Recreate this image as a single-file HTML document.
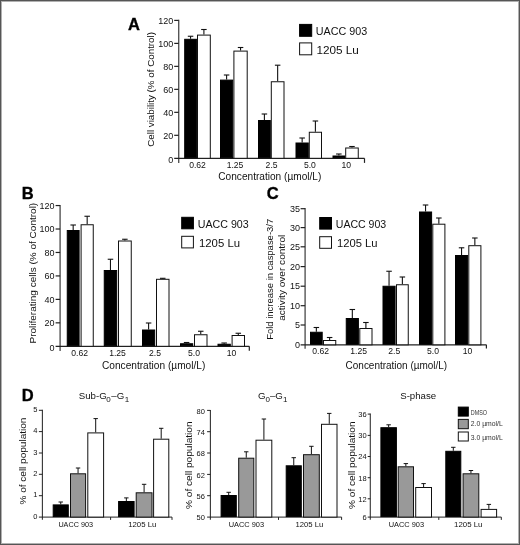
<!DOCTYPE html>
<html><head><meta charset="utf-8"><title>Figure</title>
<style>
html,body{margin:0;padding:0;background:#fff;}
body{width:520px;height:545px;overflow:hidden;position:relative;}
svg{position:absolute;left:0;top:0;display:block;font-family:"Liberation Sans",sans-serif;}
</style></head><body>
<svg width="520" height="545" viewBox="0 0 520 545">
<rect x="0" y="0" width="520" height="545" fill="#fff"/>
<rect x="1.5" y="1.5" width="517" height="542" fill="none" stroke="#b0b0b0" stroke-width="1"/>
<rect x="0.5" y="0.5" width="519" height="544" fill="none" stroke="#555" stroke-width="1"/>
<text x="128.0" y="29.6" font-size="16.5" text-anchor="start" font-weight="bold" fill="#000" stroke="#000" stroke-width="0.35">A</text>
<line x1="178.7" y1="19.799999999999997" x2="178.7" y2="163.10000000000002" stroke="#555" stroke-width="1.4"/>
<line x1="174.2" y1="158.3" x2="364.5" y2="158.3" stroke="#222" stroke-width="1.2"/>
<line x1="364.5" y1="158.3" x2="364.5" y2="162.9" stroke="#222" stroke-width="1.2"/>
<line x1="174.2" y1="20.4" x2="178.7" y2="20.4" stroke="#222" stroke-width="1.2"/>
<text x="173.3" y="23.7" font-size="9" text-anchor="end" font-weight="normal" fill="#111">120</text>
<line x1="174.2" y1="43.38333333333333" x2="178.7" y2="43.38333333333333" stroke="#222" stroke-width="1.2"/>
<text x="173.3" y="46.68333333333333" font-size="9" text-anchor="end" font-weight="normal" fill="#111">100</text>
<line x1="174.2" y1="66.36666666666667" x2="178.7" y2="66.36666666666667" stroke="#222" stroke-width="1.2"/>
<text x="173.3" y="69.66666666666667" font-size="9" text-anchor="end" font-weight="normal" fill="#111">80</text>
<line x1="174.2" y1="89.35" x2="178.7" y2="89.35" stroke="#222" stroke-width="1.2"/>
<text x="173.3" y="92.64999999999999" font-size="9" text-anchor="end" font-weight="normal" fill="#111">60</text>
<line x1="174.2" y1="112.33333333333334" x2="178.7" y2="112.33333333333334" stroke="#222" stroke-width="1.2"/>
<text x="173.3" y="115.63333333333334" font-size="9" text-anchor="end" font-weight="normal" fill="#111">40</text>
<line x1="174.2" y1="135.31666666666666" x2="178.7" y2="135.31666666666666" stroke="#222" stroke-width="1.2"/>
<text x="173.3" y="138.61666666666667" font-size="9" text-anchor="end" font-weight="normal" fill="#111">20</text>
<text x="173.3" y="162.5" font-size="9" text-anchor="end" font-weight="normal" fill="#111">0</text>
<line x1="190.55" y1="36.25" x2="190.55" y2="38.8" stroke="#111" stroke-width="1.1"/>
<line x1="187.8" y1="36.25" x2="193.3" y2="36.25" stroke="#111" stroke-width="1.1"/>
<line x1="203.9" y1="29.5" x2="203.9" y2="34.6" stroke="#111" stroke-width="1.1"/>
<line x1="201.15" y1="29.5" x2="206.65" y2="29.5" stroke="#111" stroke-width="1.1"/>
<rect x="184.70" y="39.30" width="11.70" height="118.50" fill="#000" stroke="#000" stroke-width="1"/>
<rect x="197.50" y="35.10" width="12.80" height="123.20" fill="#fff" stroke="#111" stroke-width="1"/>
<line x1="226.6" y1="75" x2="226.6" y2="79.6" stroke="#111" stroke-width="1.1"/>
<line x1="223.85" y1="75" x2="229.35" y2="75" stroke="#111" stroke-width="1.1"/>
<line x1="240.55" y1="47.5" x2="240.55" y2="50.6" stroke="#111" stroke-width="1.1"/>
<line x1="237.8" y1="47.5" x2="243.3" y2="47.5" stroke="#111" stroke-width="1.1"/>
<rect x="220.50" y="80.10" width="12.20" height="77.70" fill="#000" stroke="#000" stroke-width="1"/>
<rect x="233.90" y="51.10" width="13.30" height="107.20" fill="#fff" stroke="#111" stroke-width="1"/>
<line x1="264.4" y1="114" x2="264.4" y2="120" stroke="#111" stroke-width="1.1"/>
<line x1="261.65" y1="114" x2="267.15" y2="114" stroke="#111" stroke-width="1.1"/>
<line x1="277.65" y1="65.2" x2="277.65" y2="81.25" stroke="#111" stroke-width="1.1"/>
<line x1="274.9" y1="65.2" x2="280.4" y2="65.2" stroke="#111" stroke-width="1.1"/>
<rect x="258.50" y="120.50" width="11.80" height="37.30" fill="#000" stroke="#000" stroke-width="1"/>
<rect x="271.30" y="81.75" width="12.70" height="76.55" fill="#fff" stroke="#111" stroke-width="1"/>
<line x1="302.15" y1="138" x2="302.15" y2="142.5" stroke="#111" stroke-width="1.1"/>
<line x1="299.4" y1="138" x2="304.9" y2="138" stroke="#111" stroke-width="1.1"/>
<line x1="315.4" y1="121" x2="315.4" y2="131.75" stroke="#111" stroke-width="1.1"/>
<line x1="312.65" y1="121" x2="318.15" y2="121" stroke="#111" stroke-width="1.1"/>
<rect x="296.00" y="143.00" width="12.30" height="14.80" fill="#000" stroke="#000" stroke-width="1"/>
<rect x="309.30" y="132.25" width="12.20" height="26.05" fill="#fff" stroke="#111" stroke-width="1"/>
<line x1="338.85" y1="154" x2="338.85" y2="155.5" stroke="#111" stroke-width="1.1"/>
<line x1="336.1" y1="154" x2="341.6" y2="154" stroke="#111" stroke-width="1.1"/>
<line x1="351.975" y1="146.5" x2="351.975" y2="147.5" stroke="#111" stroke-width="1.1"/>
<line x1="349.225" y1="146.5" x2="354.725" y2="146.5" stroke="#111" stroke-width="1.1"/>
<rect x="333.00" y="156.00" width="11.70" height="1.80" fill="#000" stroke="#000" stroke-width="1"/>
<rect x="345.70" y="148.00" width="12.55" height="10.30" fill="#fff" stroke="#111" stroke-width="1"/>
<text x="197.5" y="168.1" font-size="8.6" text-anchor="middle" font-weight="normal" fill="#111">0.62</text>
<text x="235.0" y="168.1" font-size="8.6" text-anchor="middle" font-weight="normal" fill="#111">1.25</text>
<text x="271.6" y="168.1" font-size="8.6" text-anchor="middle" font-weight="normal" fill="#111">2.5</text>
<text x="309.9" y="168.1" font-size="8.6" text-anchor="middle" font-weight="normal" fill="#111">5.0</text>
<text x="346.3" y="168.1" font-size="8.6" text-anchor="middle" font-weight="normal" fill="#111">10</text>
<text x="218.3" y="180" font-size="10" text-anchor="start" font-weight="normal" fill="#111" textLength="103" lengthAdjust="spacingAndGlyphs">Concentration (µmol/L)</text>
<text transform="translate(153.9 89.4) rotate(-90)" font-size="9.5" text-anchor="middle" fill="#111" textLength="114.8" lengthAdjust="spacingAndGlyphs">Cell viability (% of Control)</text>
<rect x="299.60" y="24.40" width="12.10" height="11.90" fill="#000" stroke="#000" stroke-width="1"/>
<rect x="299.60" y="42.90" width="12.10" height="11.90" fill="#fff" stroke="#111" stroke-width="1"/>
<text x="315.8" y="35.2" font-size="11" text-anchor="start" font-weight="normal" fill="#111" textLength="51.4" lengthAdjust="spacingAndGlyphs">UACC 903</text>
<text x="316.4" y="53.8" font-size="11" text-anchor="start" font-weight="normal" fill="#111" textLength="42.4" lengthAdjust="spacingAndGlyphs">1205 Lu</text>
<text x="21.8" y="198.8" font-size="16.5" text-anchor="start" font-weight="bold" fill="#000" stroke="#000" stroke-width="0.35">B</text>
<line x1="60.1" y1="204.95000000000002" x2="60.1" y2="351.1" stroke="#555" stroke-width="1.4"/>
<line x1="55.6" y1="346.3" x2="249.3" y2="346.3" stroke="#222" stroke-width="1.2"/>
<line x1="249.3" y1="346.3" x2="249.3" y2="350.7" stroke="#222" stroke-width="1.2"/>
<line x1="55.6" y1="205.55" x2="60.1" y2="205.55" stroke="#222" stroke-width="1.2"/>
<text x="54.6" y="208.75" font-size="9" text-anchor="end" font-weight="normal" fill="#111">120</text>
<line x1="55.6" y1="229.00833333333335" x2="60.1" y2="229.00833333333335" stroke="#222" stroke-width="1.2"/>
<text x="54.6" y="232.20833333333334" font-size="9" text-anchor="end" font-weight="normal" fill="#111">100</text>
<line x1="55.6" y1="252.46666666666667" x2="60.1" y2="252.46666666666667" stroke="#222" stroke-width="1.2"/>
<text x="54.6" y="255.66666666666666" font-size="9" text-anchor="end" font-weight="normal" fill="#111">80</text>
<line x1="55.6" y1="275.925" x2="60.1" y2="275.925" stroke="#222" stroke-width="1.2"/>
<text x="54.6" y="279.125" font-size="9" text-anchor="end" font-weight="normal" fill="#111">60</text>
<line x1="55.6" y1="299.3833333333333" x2="60.1" y2="299.3833333333333" stroke="#222" stroke-width="1.2"/>
<text x="54.6" y="302.5833333333333" font-size="9" text-anchor="end" font-weight="normal" fill="#111">40</text>
<line x1="55.6" y1="322.8416666666667" x2="60.1" y2="322.8416666666667" stroke="#222" stroke-width="1.2"/>
<text x="54.6" y="326.0416666666667" font-size="9" text-anchor="end" font-weight="normal" fill="#111">20</text>
<text x="54.6" y="350.5" font-size="9" text-anchor="end" font-weight="normal" fill="#111">0</text>
<line x1="73.175" y1="225" x2="73.175" y2="230" stroke="#111" stroke-width="1.1"/>
<line x1="70.425" y1="225" x2="75.925" y2="225" stroke="#111" stroke-width="1.1"/>
<line x1="87.175" y1="216.25" x2="87.175" y2="224.25" stroke="#111" stroke-width="1.1"/>
<line x1="84.425" y1="216.25" x2="89.925" y2="216.25" stroke="#111" stroke-width="1.1"/>
<rect x="67.25" y="230.50" width="11.85" height="115.30" fill="#000" stroke="#000" stroke-width="1"/>
<rect x="81.10" y="224.75" width="12.15" height="121.55" fill="#fff" stroke="#111" stroke-width="1"/>
<line x1="110.475" y1="259.25" x2="110.475" y2="270" stroke="#111" stroke-width="1.1"/>
<line x1="107.725" y1="259.25" x2="113.225" y2="259.25" stroke="#111" stroke-width="1.1"/>
<line x1="124.875" y1="239.25" x2="124.875" y2="240.5" stroke="#111" stroke-width="1.1"/>
<line x1="122.125" y1="239.25" x2="127.625" y2="239.25" stroke="#111" stroke-width="1.1"/>
<rect x="104.25" y="270.50" width="12.45" height="75.30" fill="#000" stroke="#000" stroke-width="1"/>
<rect x="118.50" y="241.00" width="12.75" height="105.30" fill="#fff" stroke="#111" stroke-width="1"/>
<line x1="148.6" y1="323" x2="148.6" y2="329.5" stroke="#111" stroke-width="1.1"/>
<line x1="145.85" y1="323" x2="151.35" y2="323" stroke="#111" stroke-width="1.1"/>
<line x1="162.75" y1="278.3" x2="162.75" y2="278.8" stroke="#111" stroke-width="1.1"/>
<line x1="160.0" y1="278.3" x2="165.5" y2="278.3" stroke="#111" stroke-width="1.1"/>
<rect x="142.50" y="330.00" width="12.20" height="15.80" fill="#000" stroke="#000" stroke-width="1"/>
<rect x="156.50" y="279.30" width="12.50" height="67.00" fill="#fff" stroke="#111" stroke-width="1"/>
<line x1="186.6" y1="342.5" x2="186.6" y2="343.25" stroke="#111" stroke-width="1.1"/>
<line x1="183.85" y1="342.5" x2="189.35" y2="342.5" stroke="#111" stroke-width="1.1"/>
<line x1="200.75" y1="331.25" x2="200.75" y2="334.25" stroke="#111" stroke-width="1.1"/>
<line x1="198.0" y1="331.25" x2="203.5" y2="331.25" stroke="#111" stroke-width="1.1"/>
<rect x="180.50" y="343.75" width="12.20" height="2.05" fill="#000" stroke="#000" stroke-width="1"/>
<rect x="194.50" y="334.75" width="12.50" height="11.55" fill="#fff" stroke="#111" stroke-width="1"/>
<line x1="224.15" y1="343" x2="224.15" y2="343.75" stroke="#111" stroke-width="1.1"/>
<line x1="221.4" y1="343" x2="226.9" y2="343" stroke="#111" stroke-width="1.1"/>
<line x1="238.3" y1="333.25" x2="238.3" y2="335" stroke="#111" stroke-width="1.1"/>
<line x1="235.55" y1="333.25" x2="241.05" y2="333.25" stroke="#111" stroke-width="1.1"/>
<rect x="218.00" y="344.25" width="12.30" height="1.55" fill="#000" stroke="#000" stroke-width="1"/>
<rect x="232.10" y="335.50" width="12.40" height="10.80" fill="#fff" stroke="#111" stroke-width="1"/>
<text x="79.6" y="355.6" font-size="8.6" text-anchor="middle" font-weight="normal" fill="#111">0.62</text>
<text x="117.5" y="355.6" font-size="8.6" text-anchor="middle" font-weight="normal" fill="#111">1.25</text>
<text x="155.0" y="355.6" font-size="8.6" text-anchor="middle" font-weight="normal" fill="#111">2.5</text>
<text x="194.0" y="355.6" font-size="8.6" text-anchor="middle" font-weight="normal" fill="#111">5.0</text>
<text x="231.5" y="355.6" font-size="8.6" text-anchor="middle" font-weight="normal" fill="#111">10</text>
<text x="102.0" y="369.1" font-size="10" text-anchor="start" font-weight="normal" fill="#111" textLength="103.3" lengthAdjust="spacingAndGlyphs">Concentration (µmol/L)</text>
<text transform="translate(35.9 273.15) rotate(-90)" font-size="9.7" text-anchor="middle" fill="#111" textLength="140.7" lengthAdjust="spacingAndGlyphs">Proliferating cells (% of Control)</text>
<rect x="181.70" y="217.30" width="11.70" height="11.50" fill="#000" stroke="#000" stroke-width="1"/>
<rect x="181.70" y="236.30" width="11.70" height="11.60" fill="#fff" stroke="#111" stroke-width="1"/>
<text x="197.7" y="228.1" font-size="11" text-anchor="start" font-weight="normal" fill="#111" textLength="51" lengthAdjust="spacingAndGlyphs">UACC 903</text>
<text x="199.0" y="246.6" font-size="11" text-anchor="start" font-weight="normal" fill="#111" textLength="41" lengthAdjust="spacingAndGlyphs">1205 Lu</text>
<text x="266.8" y="199.3" font-size="16.5" text-anchor="start" font-weight="bold" fill="#000" stroke="#000" stroke-width="0.35">C</text>
<line x1="305.1" y1="208.1" x2="305.1" y2="348.8" stroke="#555" stroke-width="1.4"/>
<line x1="300.6" y1="344.8" x2="486.4" y2="344.8" stroke="#222" stroke-width="1.2"/>
<line x1="486.4" y1="344.8" x2="486.4" y2="348.6" stroke="#222" stroke-width="1.2"/>
<line x1="300.6" y1="208.7" x2="305.1" y2="208.7" stroke="#222" stroke-width="1.2"/>
<text x="300.0" y="211.89999999999998" font-size="9" text-anchor="end" font-weight="normal" fill="#111">35</text>
<line x1="300.6" y1="227.6" x2="305.1" y2="227.6" stroke="#222" stroke-width="1.2"/>
<text x="300.0" y="230.79999999999998" font-size="9" text-anchor="end" font-weight="normal" fill="#111">30</text>
<line x1="300.6" y1="246.8" x2="305.1" y2="246.8" stroke="#222" stroke-width="1.2"/>
<text x="300.0" y="250.0" font-size="9" text-anchor="end" font-weight="normal" fill="#111">25</text>
<line x1="300.6" y1="266.6" x2="305.1" y2="266.6" stroke="#222" stroke-width="1.2"/>
<text x="300.0" y="269.8" font-size="9" text-anchor="end" font-weight="normal" fill="#111">20</text>
<line x1="300.6" y1="286.2" x2="305.1" y2="286.2" stroke="#222" stroke-width="1.2"/>
<text x="300.0" y="289.4" font-size="9" text-anchor="end" font-weight="normal" fill="#111">15</text>
<line x1="300.6" y1="305.7" x2="305.1" y2="305.7" stroke="#222" stroke-width="1.2"/>
<text x="300.0" y="308.9" font-size="9" text-anchor="end" font-weight="normal" fill="#111">10</text>
<line x1="300.6" y1="325.0" x2="305.1" y2="325.0" stroke="#222" stroke-width="1.2"/>
<text x="300.0" y="328.2" font-size="9" text-anchor="end" font-weight="normal" fill="#111">5</text>
<text x="300.0" y="348.0" font-size="9" text-anchor="end" font-weight="normal" fill="#111">0</text>
<line x1="316.35" y1="327.5" x2="316.35" y2="331.75" stroke="#111" stroke-width="1.1"/>
<line x1="313.6" y1="327.5" x2="319.1" y2="327.5" stroke="#111" stroke-width="1.1"/>
<line x1="329.625" y1="337.5" x2="329.625" y2="340" stroke="#111" stroke-width="1.1"/>
<line x1="326.875" y1="337.5" x2="332.375" y2="337.5" stroke="#111" stroke-width="1.1"/>
<rect x="310.50" y="332.25" width="11.70" height="12.05" fill="#000" stroke="#000" stroke-width="1"/>
<rect x="323.50" y="340.50" width="12.25" height="4.30" fill="#fff" stroke="#111" stroke-width="1"/>
<line x1="352.325" y1="309.5" x2="352.325" y2="318" stroke="#111" stroke-width="1.1"/>
<line x1="349.575" y1="309.5" x2="355.075" y2="309.5" stroke="#111" stroke-width="1.1"/>
<line x1="365.9" y1="322.5" x2="365.9" y2="328" stroke="#111" stroke-width="1.1"/>
<line x1="363.15" y1="322.5" x2="368.65" y2="322.5" stroke="#111" stroke-width="1.1"/>
<rect x="346.25" y="318.50" width="12.15" height="25.80" fill="#000" stroke="#000" stroke-width="1"/>
<rect x="359.80" y="328.50" width="12.20" height="16.30" fill="#fff" stroke="#111" stroke-width="1"/>
<line x1="389.05" y1="271.25" x2="389.05" y2="285.75" stroke="#111" stroke-width="1.1"/>
<line x1="386.3" y1="271.25" x2="391.8" y2="271.25" stroke="#111" stroke-width="1.1"/>
<line x1="402.375" y1="277" x2="402.375" y2="284.25" stroke="#111" stroke-width="1.1"/>
<line x1="399.625" y1="277" x2="405.125" y2="277" stroke="#111" stroke-width="1.1"/>
<rect x="383.00" y="286.25" width="12.10" height="58.05" fill="#000" stroke="#000" stroke-width="1"/>
<rect x="396.50" y="284.75" width="11.75" height="60.05" fill="#fff" stroke="#111" stroke-width="1"/>
<line x1="425.55" y1="205" x2="425.55" y2="211.5" stroke="#111" stroke-width="1.1"/>
<line x1="422.8" y1="205" x2="428.3" y2="205" stroke="#111" stroke-width="1.1"/>
<line x1="438.85" y1="218" x2="438.85" y2="223.7" stroke="#111" stroke-width="1.1"/>
<line x1="436.1" y1="218" x2="441.6" y2="218" stroke="#111" stroke-width="1.1"/>
<rect x="419.50" y="212.00" width="12.10" height="132.30" fill="#000" stroke="#000" stroke-width="1"/>
<rect x="432.80" y="224.20" width="12.10" height="120.60" fill="#fff" stroke="#111" stroke-width="1"/>
<line x1="461.55" y1="247.8" x2="461.55" y2="255" stroke="#111" stroke-width="1.1"/>
<line x1="458.8" y1="247.8" x2="464.3" y2="247.8" stroke="#111" stroke-width="1.1"/>
<line x1="474.85" y1="238" x2="474.85" y2="245.2" stroke="#111" stroke-width="1.1"/>
<line x1="472.1" y1="238" x2="477.6" y2="238" stroke="#111" stroke-width="1.1"/>
<rect x="455.50" y="255.50" width="12.10" height="88.80" fill="#000" stroke="#000" stroke-width="1"/>
<rect x="468.80" y="245.70" width="12.10" height="99.10" fill="#fff" stroke="#111" stroke-width="1"/>
<text x="320.7" y="354.1" font-size="8.6" text-anchor="middle" font-weight="normal" fill="#111">0.62</text>
<text x="358.6" y="354.1" font-size="8.6" text-anchor="middle" font-weight="normal" fill="#111">1.25</text>
<text x="394.3" y="354.1" font-size="8.6" text-anchor="middle" font-weight="normal" fill="#111">2.5</text>
<text x="433" y="354.1" font-size="8.6" text-anchor="middle" font-weight="normal" fill="#111">5.0</text>
<text x="467.5" y="354.1" font-size="8.6" text-anchor="middle" font-weight="normal" fill="#111">10</text>
<text x="345.6" y="368.85" font-size="10" text-anchor="start" font-weight="normal" fill="#111" textLength="101.6" lengthAdjust="spacingAndGlyphs">Concentration (µmol/L)</text>
<text transform="translate(272.7 279.3) rotate(-90)" font-size="9.5" text-anchor="middle" fill="#111" textLength="121" lengthAdjust="spacingAndGlyphs">Fold increase in caspase-3/7</text>
<text transform="translate(284.5 277.75) rotate(-90)" font-size="9.5" text-anchor="middle" fill="#111" textLength="86.1" lengthAdjust="spacingAndGlyphs">activity over control</text>
<rect x="319.70" y="217.50" width="11.80" height="11.60" fill="#000" stroke="#000" stroke-width="1"/>
<rect x="319.70" y="236.70" width="11.80" height="11.60" fill="#fff" stroke="#111" stroke-width="1"/>
<text x="335.75" y="228.1" font-size="11" text-anchor="start" font-weight="normal" fill="#111" textLength="50.5" lengthAdjust="spacingAndGlyphs">UACC 903</text>
<text x="337.0" y="246.8" font-size="11" text-anchor="start" font-weight="normal" fill="#111" textLength="40.5" lengthAdjust="spacingAndGlyphs">1205 Lu</text>
<text x="21.8" y="401.4" font-size="16.5" text-anchor="start" font-weight="bold" fill="#000" stroke="#000" stroke-width="0.35">D</text>
<line x1="42.4" y1="409.8" x2="42.4" y2="519.7" stroke="#333" stroke-width="1.1"/>
<line x1="38.9" y1="517.1" x2="172" y2="517.1" stroke="#222" stroke-width="1.0"/>
<line x1="172" y1="517.1" x2="172" y2="519.9" stroke="#222" stroke-width="1.0"/>
<line x1="110.6" y1="517.1" x2="110.6" y2="519.9" stroke="#222" stroke-width="1.0"/>
<line x1="38.9" y1="410.3" x2="42.4" y2="410.3" stroke="#222" stroke-width="1.0"/>
<text x="37.4" y="411.8" font-size="7.5" text-anchor="end" font-weight="normal" fill="#111">5</text>
<line x1="38.9" y1="431.6" x2="42.4" y2="431.6" stroke="#222" stroke-width="1.0"/>
<text x="37.4" y="433.1" font-size="7.5" text-anchor="end" font-weight="normal" fill="#111">4</text>
<line x1="38.9" y1="453.0" x2="42.4" y2="453.0" stroke="#222" stroke-width="1.0"/>
<text x="37.4" y="454.5" font-size="7.5" text-anchor="end" font-weight="normal" fill="#111">3</text>
<line x1="38.9" y1="474.3" x2="42.4" y2="474.3" stroke="#222" stroke-width="1.0"/>
<text x="37.4" y="475.8" font-size="7.5" text-anchor="end" font-weight="normal" fill="#111">2</text>
<line x1="38.9" y1="495.7" x2="42.4" y2="495.7" stroke="#222" stroke-width="1.0"/>
<text x="37.4" y="497.2" font-size="7.5" text-anchor="end" font-weight="normal" fill="#111">1</text>
<text x="37.4" y="518.6" font-size="7.5" text-anchor="end" font-weight="normal" fill="#111">0</text>
<line x1="60.75" y1="502" x2="60.75" y2="504.4" stroke="#111" stroke-width="1.0"/>
<line x1="58.55" y1="502" x2="62.95" y2="502" stroke="#111" stroke-width="1.0"/>
<rect x="53.20" y="504.90" width="15.10" height="11.70" fill="#000" stroke="#000" stroke-width="1"/>
<line x1="78.05" y1="468" x2="78.05" y2="473.3" stroke="#111" stroke-width="1.0"/>
<line x1="75.85" y1="468" x2="80.25" y2="468" stroke="#111" stroke-width="1.0"/>
<rect x="70.50" y="473.80" width="15.10" height="43.30" fill="#999" stroke="#111" stroke-width="1"/>
<line x1="95.69999999999999" y1="418.6" x2="95.69999999999999" y2="432.4" stroke="#111" stroke-width="1.0"/>
<line x1="93.49999999999999" y1="418.6" x2="97.89999999999999" y2="418.6" stroke="#111" stroke-width="1.0"/>
<rect x="87.80" y="432.90" width="15.80" height="84.20" fill="#fff" stroke="#111" stroke-width="1"/>
<line x1="126.35000000000001" y1="497.9" x2="126.35000000000001" y2="501" stroke="#111" stroke-width="1.0"/>
<line x1="124.15" y1="497.9" x2="128.55" y2="497.9" stroke="#111" stroke-width="1.0"/>
<rect x="118.60" y="501.50" width="15.50" height="15.10" fill="#000" stroke="#000" stroke-width="1"/>
<line x1="144.1" y1="484.3" x2="144.1" y2="492.3" stroke="#111" stroke-width="1.0"/>
<line x1="141.9" y1="484.3" x2="146.29999999999998" y2="484.3" stroke="#111" stroke-width="1.0"/>
<rect x="136.20" y="492.80" width="15.80" height="24.30" fill="#999" stroke="#111" stroke-width="1"/>
<line x1="161.2" y1="428.3" x2="161.2" y2="438.7" stroke="#111" stroke-width="1.0"/>
<line x1="159.0" y1="428.3" x2="163.39999999999998" y2="428.3" stroke="#111" stroke-width="1.0"/>
<rect x="153.60" y="439.20" width="15.20" height="77.90" fill="#fff" stroke="#111" stroke-width="1"/>
<text x="58.4" y="527.3" font-size="7.5" text-anchor="start" font-weight="normal" fill="#111" textLength="34.6" lengthAdjust="spacingAndGlyphs">UACC 903</text>
<text x="128.2" y="527.3" font-size="7.5" text-anchor="start" font-weight="normal" fill="#111" textLength="28.2" lengthAdjust="spacingAndGlyphs">1205 Lu</text>
<text transform="translate(25.6 461.1) rotate(-90)" font-size="9.5" text-anchor="middle" fill="#111" textLength="86.9" lengthAdjust="spacingAndGlyphs">% of cell population</text>
<line x1="210.4" y1="409.9" x2="210.4" y2="519.7" stroke="#333" stroke-width="1.1"/>
<line x1="207.1" y1="517.1" x2="341.6" y2="517.1" stroke="#222" stroke-width="1.0"/>
<line x1="341.6" y1="517.1" x2="341.6" y2="519.9" stroke="#222" stroke-width="1.0"/>
<line x1="278.5" y1="517.1" x2="278.5" y2="519.9" stroke="#222" stroke-width="1.0"/>
<line x1="207.1" y1="410.4" x2="210.4" y2="410.4" stroke="#222" stroke-width="1.0"/>
<text x="204.9" y="413.59999999999997" font-size="7.5" text-anchor="end" font-weight="normal" fill="#111">80</text>
<line x1="207.1" y1="431.7" x2="210.4" y2="431.7" stroke="#222" stroke-width="1.0"/>
<text x="204.9" y="434.9" font-size="7.5" text-anchor="end" font-weight="normal" fill="#111">74</text>
<line x1="207.1" y1="453.0" x2="210.4" y2="453.0" stroke="#222" stroke-width="1.0"/>
<text x="204.9" y="456.2" font-size="7.5" text-anchor="end" font-weight="normal" fill="#111">68</text>
<line x1="207.1" y1="474.4" x2="210.4" y2="474.4" stroke="#222" stroke-width="1.0"/>
<text x="204.9" y="477.59999999999997" font-size="7.5" text-anchor="end" font-weight="normal" fill="#111">62</text>
<line x1="207.1" y1="495.7" x2="210.4" y2="495.7" stroke="#222" stroke-width="1.0"/>
<text x="204.9" y="498.9" font-size="7.5" text-anchor="end" font-weight="normal" fill="#111">56</text>
<text x="204.9" y="520.3000000000001" font-size="7.5" text-anchor="end" font-weight="normal" fill="#111">50</text>
<line x1="228.7" y1="492.3" x2="228.7" y2="495" stroke="#111" stroke-width="1.0"/>
<line x1="226.5" y1="492.3" x2="230.89999999999998" y2="492.3" stroke="#111" stroke-width="1.0"/>
<rect x="221.10" y="495.50" width="15.20" height="21.10" fill="#000" stroke="#000" stroke-width="1"/>
<line x1="246.25" y1="451.8" x2="246.25" y2="457.7" stroke="#111" stroke-width="1.0"/>
<line x1="244.05" y1="451.8" x2="248.45" y2="451.8" stroke="#111" stroke-width="1.0"/>
<rect x="238.70" y="458.20" width="15.10" height="58.90" fill="#999" stroke="#111" stroke-width="1"/>
<line x1="263.9" y1="419" x2="263.9" y2="439.7" stroke="#111" stroke-width="1.0"/>
<line x1="261.7" y1="419" x2="266.09999999999997" y2="419" stroke="#111" stroke-width="1.0"/>
<rect x="256.00" y="440.20" width="15.80" height="76.90" fill="#fff" stroke="#111" stroke-width="1"/>
<line x1="293.75" y1="457.7" x2="293.75" y2="465.3" stroke="#111" stroke-width="1.0"/>
<line x1="291.55" y1="457.7" x2="295.95" y2="457.7" stroke="#111" stroke-width="1.0"/>
<rect x="286.20" y="465.80" width="15.10" height="50.80" fill="#000" stroke="#000" stroke-width="1"/>
<line x1="311.4" y1="446.3" x2="311.4" y2="454.2" stroke="#111" stroke-width="1.0"/>
<line x1="309.2" y1="446.3" x2="313.59999999999997" y2="446.3" stroke="#111" stroke-width="1.0"/>
<rect x="303.50" y="454.70" width="15.80" height="62.40" fill="#999" stroke="#111" stroke-width="1"/>
<line x1="329.25" y1="413.4" x2="329.25" y2="423.8" stroke="#111" stroke-width="1.0"/>
<line x1="327.05" y1="413.4" x2="331.45" y2="413.4" stroke="#111" stroke-width="1.0"/>
<rect x="321.50" y="424.30" width="15.50" height="92.80" fill="#fff" stroke="#111" stroke-width="1"/>
<text x="228.7" y="527.3" font-size="7.5" text-anchor="start" font-weight="normal" fill="#111" textLength="35.4" lengthAdjust="spacingAndGlyphs">UACC 903</text>
<text x="295.4" y="527.3" font-size="7.5" text-anchor="start" font-weight="normal" fill="#111" textLength="27.9" lengthAdjust="spacingAndGlyphs">1205 Lu</text>
<text transform="translate(191.6 465.25) rotate(-90)" font-size="9.5" text-anchor="middle" fill="#111" textLength="87.5" lengthAdjust="spacingAndGlyphs">% of cell population</text>
<line x1="370.3" y1="413.6" x2="370.3" y2="519.7" stroke="#333" stroke-width="1.1"/>
<line x1="367.7" y1="517.1" x2="501.3" y2="517.1" stroke="#222" stroke-width="1.0"/>
<line x1="501.3" y1="517.1" x2="501.3" y2="519.9" stroke="#222" stroke-width="1.0"/>
<line x1="438.8" y1="517.1" x2="438.8" y2="519.9" stroke="#222" stroke-width="1.0"/>
<line x1="367.7" y1="414.1" x2="370.3" y2="414.1" stroke="#222" stroke-width="1.0"/>
<text x="366.7" y="417.0" font-size="7.5" text-anchor="end" font-weight="normal" fill="#111">36</text>
<line x1="367.7" y1="435.4" x2="370.3" y2="435.4" stroke="#222" stroke-width="1.0"/>
<text x="366.7" y="438.29999999999995" font-size="7.5" text-anchor="end" font-weight="normal" fill="#111">30</text>
<line x1="367.7" y1="456.5" x2="370.3" y2="456.5" stroke="#222" stroke-width="1.0"/>
<text x="366.7" y="459.4" font-size="7.5" text-anchor="end" font-weight="normal" fill="#111">24</text>
<line x1="367.7" y1="477.7" x2="370.3" y2="477.7" stroke="#222" stroke-width="1.0"/>
<text x="366.7" y="480.59999999999997" font-size="7.5" text-anchor="end" font-weight="normal" fill="#111">18</text>
<line x1="367.7" y1="498.8" x2="370.3" y2="498.8" stroke="#222" stroke-width="1.0"/>
<text x="366.7" y="501.7" font-size="7.5" text-anchor="end" font-weight="normal" fill="#111">12</text>
<text x="366.7" y="520.0" font-size="7.5" text-anchor="end" font-weight="normal" fill="#111">6</text>
<line x1="388.65" y1="424.8" x2="388.65" y2="427.2" stroke="#111" stroke-width="1.0"/>
<line x1="386.45" y1="424.8" x2="390.84999999999997" y2="424.8" stroke="#111" stroke-width="1.0"/>
<rect x="380.90" y="427.70" width="15.50" height="88.90" fill="#000" stroke="#000" stroke-width="1"/>
<line x1="405.85" y1="463.6" x2="405.85" y2="466.3" stroke="#111" stroke-width="1.0"/>
<line x1="403.65000000000003" y1="463.6" x2="408.05" y2="463.6" stroke="#111" stroke-width="1.0"/>
<rect x="398.20" y="466.80" width="15.30" height="50.30" fill="#999" stroke="#111" stroke-width="1"/>
<line x1="423.6" y1="483.6" x2="423.6" y2="487" stroke="#111" stroke-width="1.0"/>
<line x1="421.40000000000003" y1="483.6" x2="425.8" y2="483.6" stroke="#111" stroke-width="1.0"/>
<rect x="415.70" y="487.50" width="15.80" height="29.60" fill="#fff" stroke="#111" stroke-width="1"/>
<line x1="453.3" y1="447.3" x2="453.3" y2="450.8" stroke="#111" stroke-width="1.0"/>
<line x1="451.1" y1="447.3" x2="455.5" y2="447.3" stroke="#111" stroke-width="1.0"/>
<rect x="445.80" y="451.30" width="15.00" height="65.30" fill="#000" stroke="#000" stroke-width="1"/>
<line x1="470.95" y1="470.5" x2="470.95" y2="473.3" stroke="#111" stroke-width="1.0"/>
<line x1="468.75" y1="470.5" x2="473.15" y2="470.5" stroke="#111" stroke-width="1.0"/>
<rect x="463.10" y="473.80" width="15.70" height="43.30" fill="#999" stroke="#111" stroke-width="1"/>
<line x1="488.85" y1="504.4" x2="488.85" y2="508.9" stroke="#111" stroke-width="1.0"/>
<line x1="486.65000000000003" y1="504.4" x2="491.05" y2="504.4" stroke="#111" stroke-width="1.0"/>
<rect x="481.10" y="509.40" width="15.50" height="7.70" fill="#fff" stroke="#111" stroke-width="1"/>
<text x="388.7" y="527.3" font-size="7.5" text-anchor="start" font-weight="normal" fill="#111" textLength="35.4" lengthAdjust="spacingAndGlyphs">UACC 903</text>
<text x="454.1" y="527.3" font-size="7.5" text-anchor="start" font-weight="normal" fill="#111" textLength="28.4" lengthAdjust="spacingAndGlyphs">1205 Lu</text>
<text transform="translate(355.0 465.25) rotate(-90)" font-size="9.5" text-anchor="middle" fill="#111" textLength="87.5" lengthAdjust="spacingAndGlyphs">% of cell population</text>
<text y="399.3" font-size="9.7" fill="#111"><tspan x="78.7">Sub-G</tspan><tspan x="106.3" y="401.8" font-size="8">0</tspan><tspan x="111.3" y="399.3">–G</tspan><tspan x="124.8" y="401.8" font-size="8">1</tspan></text>
<text y="399.3" font-size="9.7" fill="#111"><tspan x="258.1">G</tspan><tspan x="265.5" y="401.8" font-size="8">0</tspan><tspan x="269.9" y="399.3">–G</tspan><tspan x="282.9" y="401.8" font-size="8">1</tspan></text>
<text x="400.2" y="399.3" font-size="9.7" text-anchor="start" font-weight="normal" fill="#111" textLength="36" lengthAdjust="spacingAndGlyphs">S-phase</text>
<rect x="458.30" y="407.10" width="10.00" height="9.00" fill="#000" stroke="#000" stroke-width="1"/>
<rect x="458.30" y="419.40" width="10.00" height="9.30" fill="#999" stroke="#111" stroke-width="1"/>
<rect x="458.30" y="432.00" width="10.00" height="9.00" fill="#fff" stroke="#111" stroke-width="1"/>
<text x="470.8" y="414.5" font-size="6.5" text-anchor="start" font-weight="normal" fill="#333" textLength="16.2" lengthAdjust="spacingAndGlyphs">DMSO</text>
<text x="470.8" y="426.3" font-size="6.5" text-anchor="start" font-weight="normal" fill="#333" textLength="32" lengthAdjust="spacingAndGlyphs">2.0 µmol/L</text>
<text x="470.8" y="439.6" font-size="6.5" text-anchor="start" font-weight="normal" fill="#333" textLength="32" lengthAdjust="spacingAndGlyphs">3.0 µmol/L</text>
</svg>
</body></html>
